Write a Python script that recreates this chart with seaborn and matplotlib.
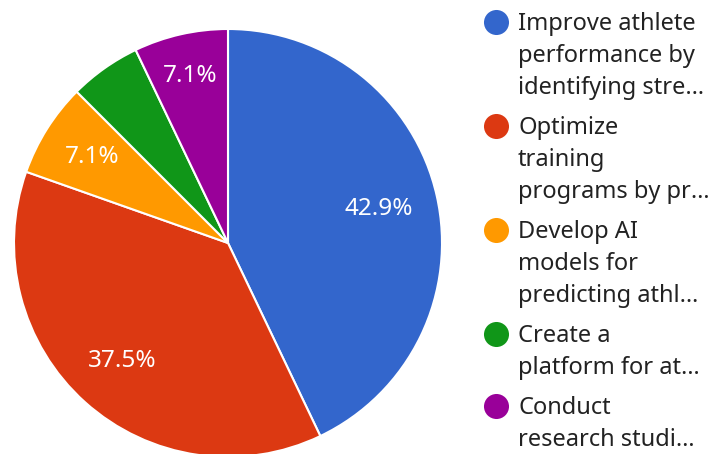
import numpy as np
import seaborn as sns
import matplotlib.pyplot as plt

sns.set_theme(style="white")
plt.rcParams['font.family'] = ['Noto Sans', 'DejaVu Sans']

# share of responses per answer (clockwise from 12 o'clock)
labels = [
    "Improve athlete\nperformance by\nidentifying stre…",
    "Optimize\ntraining\nprograms by pr…",
    "Develop AI\nmodels for\npredicting athl…",
    "Create a\nplatform for at…",
    "Conduct\nresearch studi…",
]
shares = [42.9, 37.5, 7.1, 5.4, 7.1]
colors = ["#3366CC", "#DC3912", "#FF9900", "#109618", "#990099"]

W, H, dpi = 713, 454, 100
fig = plt.figure(figsize=(W / dpi, H / dpi), dpi=dpi)

cx, cy, r = 228, 243, 214
ax = fig.add_axes([(cx - r) / W, (H - cy - r) / H, 2 * r / W, 2 * r / H])
wedges, texts, autotexts = ax.pie(
    shares, colors=colors, startangle=90, counterclock=False,
    autopct=lambda p: f"{p:.1f}%" if p > 6 else "",
    pctdistance=0.74,
    wedgeprops=dict(edgecolor="white", linewidth=1.5),
    textprops=dict(color="white", fontsize=17.5),
)
# nudge label radius a bit per slice (as the original renderer does)
label_dist = [0.72, 0.74, 0.75, 0.75, 0.80]
for w, t, d in zip(wedges, autotexts, label_dist):
    ang = np.deg2rad((w.theta1 + w.theta2) / 2)
    t.set_position((d * np.cos(ang), d * np.sin(ang)))
ax.set_xlim(-1, 1)
ax.set_ylim(-1, 1)
ax.set_aspect("equal")
ax.axis("off")

# legend, drawn in pixel space
lg = fig.add_axes([0, 0, 1, 1])
lg.set_xlim(0, W)
lg.set_ylim(H, 0)
lg.axis("off")
y = 22
step = 32
for lab, c in zip(labels, colors):
    lg.scatter([496], [y], s=325, color=c, linewidths=0)
    for line in lab.split("\n"):
        lg.text(518, y + 8, line, fontsize=17, color="#222222",
                va="baseline", ha="left")
        y += step
    y += 8

fig.savefig("out.png", dpi=dpi)
